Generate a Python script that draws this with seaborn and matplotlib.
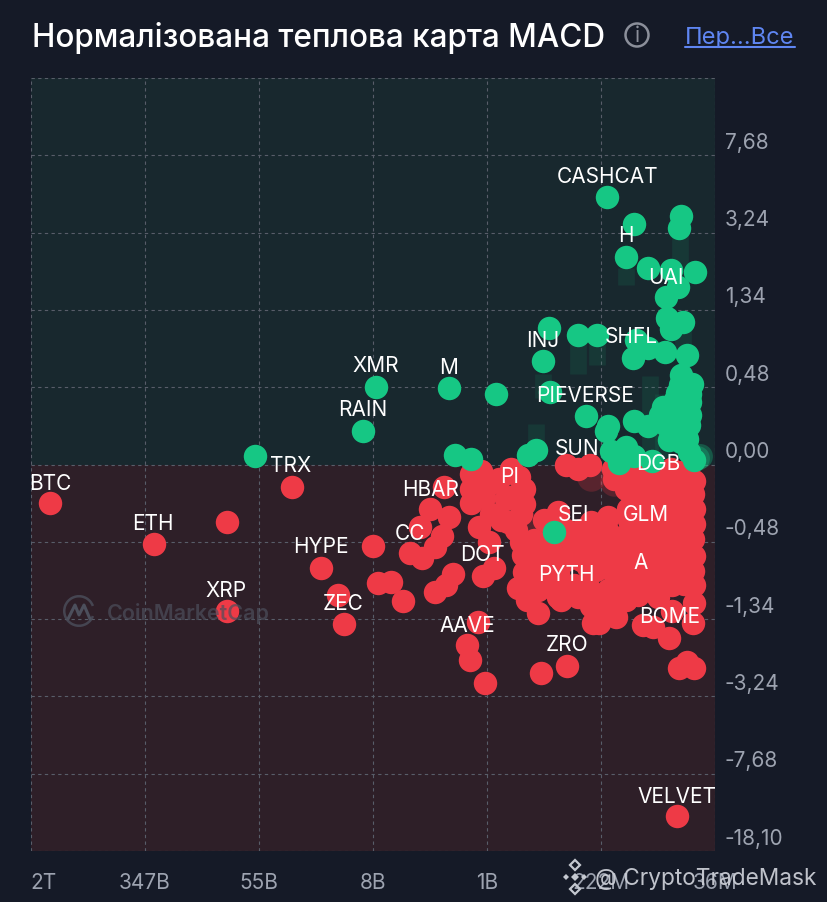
import numpy as np
import pandas as pd
import matplotlib.pyplot as plt
import seaborn as sns
from matplotlib.lines import Line2D
from matplotlib.patches import Circle, Wedge, RegularPolygon
from matplotlib.transforms import ScaledTranslation

# --- Data (market cap in billions, normalized MACD) ---
cap_ticks = [2000, 347, 55, 8, 1, 0.222, 0.036]
cap_labels = ["2T", "347B", "55B", "8B", "1B", "222M", "36M"]
macd_ticks = [18.10, 7.68, 3.24, 1.34, 0.48, 0.00, -0.48, -1.34, -3.24, -7.68, -18.10]
macd_labels = ["", "7,68", "3,24", "1,34", "0,48", "0,00", "-0,48", "-1,34", "-3,24", "-7,68", "-18,10"]

green_cap = [
    .2, .13, .0617, .064, .149, .104, .073, .0497, .065, .079,
    .078, .0598, .073, .44, .30, .234, .127, .134, .105, .08,
    .0566, .477, .0617, .0522, .435, .066, .0539, .083, .27, .199,
    .205, .132, .105, .071, .0548, .071, .0557, .523, .582, .19,
    .149, .167, .132, .098, .0548, .0505, 7.57, 2.0, .887, 9.5,
    58, 1.79, 1.34, .41, .06, .068, .058, .0566, .062, .056,
    .073, .0626, .086, .0626, .079, .0534, .0534, .0626, .0575, .075,
]
green_macd = [
    5.26, 3.76, 4.22, 3.53, 2.65, 2.38, 2.33, 2.28, 1.91, 1.66,
    1.25, 1.20, 1.125, 1.14, 1.06, 1.06, 1.0, .80, .92, .87,
    .84, .77, .62, .52, .45, .447, .39, .354, .304, .242,
    .205, .273, .242, .28, .248, .199, .323, .087, .062, .081,
    .106, .012, .05, .019, .075, .031, .48, .478, .435, .211,
    .05, .056, .037, -.42, .50, .40, .33, .16, .14, .26,
    .37, .37, .31, .217, .248, .31, .435, .50, .155, .155,
]

red_cap = [
    # left side
    1486, 300, 92, 31.5, 7.9, 19.3, 92, 14.5, 13.1, 7.3, 5.75, 4.6,
    # CC / HBAR group
    2.2, 2.8, 2.0, 3.37, 2.25, 2.56, 4.05, 3.25, 1.86, 2.12, 2.56,
    # AAVE, ZRO
    1.18, 1.44, 1.37, 1.04, .347, .49,
    # PI / DOT group
    1.12, 1.34, 1.34, .949, 1.06, .655, .61, .728, .61, .949, .757, .639,
    1.16, .974, .91, 1.08, .639, .62, .61, .664,
    .852, .78, .831, 1.34, .728, .684,
    # SEI / PYTH group
    .39, .47, .537, .43, .44, .289, .199, .253, .289, .199, .222, .17,
    .181, .262, .39, .49, .51, .39, .51, .30, .231, .181, .247, .175,
    .228, .262, .199, .33, .45, .55,
    .559, .559, .523, .46, .377, .315, .46, .352, .289, .237, .205, .162,
    .149, .138, .143, .175, .222, .253, .33, .352, .59, .143, .205, .149,
    .149, .377, .253,
    # SUN group
    .352, .30, .258,
    # right blob
    .181, .145, .134, .109, .089, .072, .059, .0505, .135, .11,
    .09, .073, .06, .051, .134, .108, .088, .071, .058, .05,
    .136, .11, .09, .072, .059, .0505, .15, .133, .108, .088,
    .072, .059, .051, .155, .134, .11, .09, .073, .06, .0505,
    .137, .108, .088, .071, .058, .051, .125, .105, .089, .072,
    .059, .0505, .122, .09, .0505, .072, .113, .096, .075, .0513,
    .0566, .064, .0505, .066,
    .118, .093, .073, .058, .149, .184, .149, .138, .118,
]
red_macd = [
    -.242, -.50, -.36, -.137, -.525, -.77, -1.25, -1.07, -1.46, -.94, -.93, -1.14,
    -.137, -.279, -.329, -.385, -.447, -.536, -.60, -.66, -.84, -.96, -1.04,
    -1.41, -1.98, -2.34, -2.90, -2.49, -2.66,
    -.043, -.155, -.236, -.112, -.199, -.075, -.155, -.199, -.248, -.31, -.36, -.31,
    -.391, -.48, -.77, -.86, -.48, -.625, -.82, -.99,
    -.093, -.217, -.342, -.062, -.031, -.404,
    -.298, -.342, -.466, -.57, -.342, -.404, -.323, -.36, -.536, -.42, -.60, -.60,
    -.83, -.76, -.83, -.83, -1.02, -1.09, -1.27, -1.09, -1.09, -1.16, -1.44, -1.32,
    -1.44, -.98, -1.02, -.62, -.70, -.90,
    -.636, -.86, -1.02, -.96, -.96, -.96, -.74, -.68, -.68, -.79, -.68, -.79,
    -.466, -.64, -.342, -.466, -.434, -.466, -.466, -.404, -1.13, -.85, -1.24, -1.13,
    -1.02, -1.13, -1.19,
    -.005, -.031, -.005,
    -.093, -.279, -.11, -.093, -.10, -.085, -.093, -.10, -.186, -.19,
    -.18, -.186, -.19, -.186, -.279, -.285, -.27, -.279, -.28, -.279,
    -.372, -.365, -.38, -.372, -.37, -.372, -.44, -.465, -.46, -.47,
    -.465, -.46, -.465, -.60, -.64, -.63, -.64, -.65, -.64, -.64,
    -.80, -.79, -.81, -.80, -.80, -.80, -.96, -.95, -.97, -.96,
    -.95, -.96, -1.07, -1.09, -1.16, -1.25, -1.49, -1.53, -1.80, -1.44,
    -2.39, -2.53, -2.53, -13.4,
    -.031, -.043, -.031, -.043, -.031, -.031, -.155, -.186, -.279,
]

# fading previous positions of a few coins
halo_green_cap = [.0456, .048]
halo_green_macd = [.05, .04]
halo_red_cap = [.181, .253, .559, .51]
halo_red_macd = [-.11, -.075, -.391, -.67]
trail_cap = [.0626, .149, .30, .234, .477, .101, .083, .0598, .52]
trail_top = [3.17, 2.38, .96, .96, .63, .61, .435, 1.125, .25]
trail_bottom = [2.15, 1.96, .63, .73, .41, .03, .03, .9, .12]

label_names = [
    "CASHCAT", "H", "UAI", "INJ", "SHFL", "XMR", "M", "PIEVERSE", "RAIN", "SUN",
    "TRX", "DGB", "BTC", "ETH", "HBAR", "PI", "SEI", "GLM", "CC", "HYPE",
    "DOT", "A", "PYTH", "XRP", "ZEC", "BOME", "AAVE", "ZRO", "VELVET",
]
label_cap = [
    .2, .149, .079, .477, .136, 7.57, 2.0, .274, 9.5, .304,
    32, .089, 1486, 305, 2.8, .745, .318, .109, 4.05, 19.3,
    1.08, .118, .352, 93, 13.1, .074, 1.44, .347, .066,
]
label_macd = [
    6.59, 3.24, 2.2, 1.03, 1.07, .75, .73, .447, .354, .112,
    .012, .019, -.10, -.348, -.137, -.056, -.292, -.298, -.41, -.50,
    -.59, -.68, -.82, -.99, -1.14, -1.28, -1.44, -1.90, -10.35,
]

BG = "#151a27"
GREEN = "#16c784"
RED = "#ee3a46"

sns.set_theme(style="dark")
plt.rcParams["font.family"] = ["Inter", "DejaVu Sans"]

# --- Scales: evenly spaced bands between the tick values ---
cap_log = np.log10(cap_ticks[::-1])
cap_pos = np.arange(len(cap_log))
macd_asc = np.array(macd_ticks[::-1])
macd_pos = np.arange(len(macd_asc))


def cap_fwd(v):
    return np.interp(np.log10(np.maximum(v, 1e-6)), cap_log, cap_pos)


def cap_inv(p):
    return 10 ** np.interp(p, cap_pos, cap_log)


def macd_fwd(v):
    return np.interp(v, macd_asc, macd_pos)


def macd_inv(p):
    return np.interp(p, macd_pos, macd_asc)


fig = plt.figure(figsize=(8.28, 9.03), dpi=100, facecolor=BG)
ax = fig.add_axes([30.6 / 828, 1 - 852 / 903, (715 - 30.6) / 828, (852 - 79) / 903])
ax.set_facecolor(BG)
ax.set_xscale("function", functions=(cap_fwd, cap_inv))
ax.set_yscale("function", functions=(macd_fwd, macd_inv))

ax.axhspan(0, macd_ticks[0], color="#18282e", lw=0, zorder=0)
ax.axhspan(macd_ticks[-1], 0, color="#2e1f28", lw=0, zorder=0)

ax.vlines(trail_cap, trail_bottom, trail_top, color=GREEN, alpha=0.1, linewidth=12, zorder=2)
sns.scatterplot(x=halo_red_cap, y=halo_red_macd, color=RED, s=420, alpha=0.22, linewidth=0, ax=ax, zorder=2)
sns.scatterplot(x=halo_green_cap, y=halo_green_macd, color=GREEN, s=320, alpha=0.3, linewidth=0, ax=ax, zorder=2)

df_red = pd.DataFrame({"cap": red_cap, "macd": red_macd})
df_green = pd.DataFrame({"cap": green_cap, "macd": green_macd})
sns.scatterplot(data=df_red, x="cap", y="macd", color=RED, s=285, linewidth=0, ax=ax, zorder=3, clip_on=False)
sns.scatterplot(data=df_green, x="cap", y="macd", color=GREEN, s=285, linewidth=0, ax=ax, zorder=4, clip_on=False)

ax.set_xticks(cap_ticks)
ax.set_xticklabels(cap_labels)
ax.set_yticks(macd_ticks)
ax.set_yticklabels(macd_labels, va="bottom")
# big caps on the left
ax.set_xlim(cap_ticks[0], cap_ticks[-1])
ax.set_ylim(macd_ticks[-1], macd_ticks[0])
ax.yaxis.tick_right()
ax.set_xlabel("")
ax.set_ylabel("")
ax.grid(True, color="#585d69", linestyle=(0, (3, 3)), linewidth=0.8, zorder=1)
ax.set_axisbelow(True)
for s in ax.spines.values():
    s.set_visible(False)
ax.tick_params(axis="both", length=0, labelsize=15, labelcolor="#9da3b0")
ax.tick_params(axis="x", pad=15)
ax.tick_params(axis="y", pad=7)
shift = ScaledTranslation(0, 2.5 / 72, fig.dpi_scale_trans)
for lab in ax.get_yticklabels():
    lab.set_transform(lab.get_transform() + shift)
ax.get_xticklabels()[0].set_ha("left")

for name, cx, cy in zip(label_names, label_cap, label_macd):
    ax.text(cx, cy, name, color="white", fontsize=15, ha="center", va="center_baseline", zorder=6, clip_on=False)

# --- Header ---
fig.text(32 / 828, 1 - 38 / 903, "Нормалізована теплова карта MACD", color="white",
         fontsize=22.7, fontweight="medium", ha="left", va="center")
over = fig.add_axes([0, 0, 1, 1], facecolor="none")
over.set_xlim(0, 828)
over.set_ylim(903, 0)
over.axis("off")
over.add_patch(Circle((637, 36), 11.5, fill=False, ec="#8b8f9a", lw=1.8))
over.text(637, 36.5, "i", color="#8b8f9a", fontsize=15, ha="center", va="center")
over.text(740, 37.5, "Пер...Все", color="#5f86f2", fontsize=17, ha="center", va="center")
over.add_line(Line2D([685, 795], [47.5, 47.5], color="#5f86f2", lw=1.5))

# --- Watermarks ---
over.add_patch(Wedge((79, 612), 16, 20, 340, width=2.5, fc="#4c4f5c", ec="none", alpha=0.8))
over.plot([68, 75, 79, 84, 90], [620, 606, 616, 606, 620], color="#4c4f5c", lw=2.2)
over.text(107, 614, "CoinMarketCap", color="#4c4f5c", fontsize=15.5, fontweight="semibold", ha="left",
          va="center", alpha=0.7, zorder=8)
over.add_patch(RegularPolygon((575, 866), 4, radius=5, fc="none", ec="#c4c8d0", lw=1.6))
over.add_patch(RegularPolygon((566, 878), 4, radius=3, fc="#c4c8d0", ec="none"))
over.add_patch(RegularPolygon((584, 878), 4, radius=3, fc="#c4c8d0", ec="none"))
over.add_patch(RegularPolygon((575, 878), 4, radius=4, fc="#c4c8d0", ec="none"))
over.add_patch(RegularPolygon((575, 890), 4, radius=5, fc="none", ec="#c4c8d0", lw=1.6))
over.text(595, 879, "@ CryptoTradeMask", color="#c9ccd4", fontsize=16.3, ha="left", va="center", alpha=0.95)

fig.savefig("out.png", dpi=100, facecolor=BG)
